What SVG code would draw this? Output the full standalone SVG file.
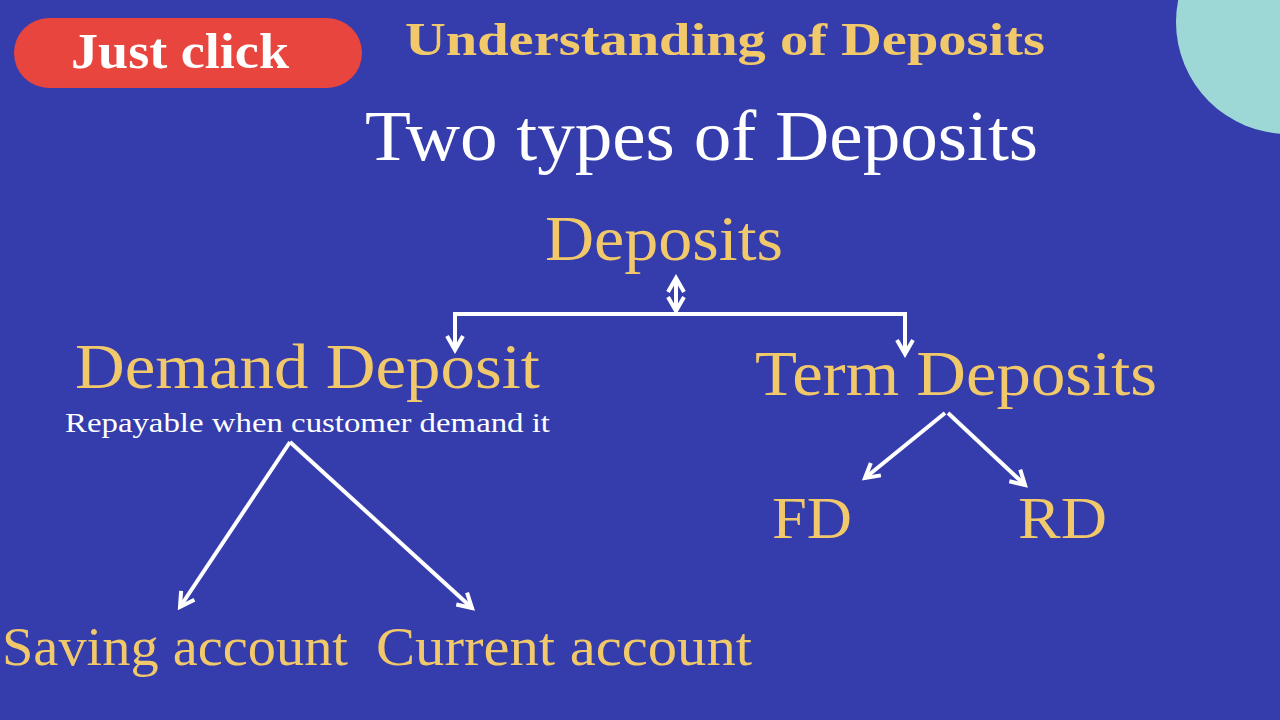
<svg xmlns="http://www.w3.org/2000/svg" width="1280" height="720" viewBox="0 0 1280 720">
<style>
text{font-family:"Liberation Serif","DejaVu Serif",serif}
.y{fill:#F2C96A}
.w{fill:#FFFFFF}
.c line,.c path{stroke:#FFFFFF;stroke-width:4;fill:none}
</style>
<defs>
<marker id="ah" viewBox="0 0 10 10" refX="8" refY="5" markerWidth="5" markerHeight="5" orient="auto-start-reverse">
<path d="M1,1 L8,5 L1,9" fill="none" stroke="#FFFFFF" stroke-width="2"/>
</marker>
</defs>
<rect width="1280" height="720" fill="#343DAB"/>
<circle cx="1288" cy="22" r="112" fill="#9ED8D6"/>
<g id="badge">
<rect x="14" y="18" width="348" height="70" rx="35" fill="#E8453F"/>
<text x="180" y="68" text-anchor="middle" font-size="50" font-weight="bold" class="w" textLength="218" lengthAdjust="spacingAndGlyphs">Just click</text>
</g>
<g id="title"><text x="405" y="55" font-size="46" font-weight="bold" class="y" textLength="640" lengthAdjust="spacingAndGlyphs">Understanding of Deposits</text></g>
<g id="subtitle"><text x="365" y="160" font-size="72" class="w" textLength="673" lengthAdjust="spacingAndGlyphs">Two types of  Deposits</text></g>
<g id="deposits"><text x="545" y="260" font-size="64" class="y" textLength="238" lengthAdjust="spacingAndGlyphs">Deposits</text></g>
<g id="demand">
<text x="75" y="388" font-size="64" class="y" textLength="465" lengthAdjust="spacingAndGlyphs">Demand Deposit</text>
<text x="65" y="432" font-size="28" class="w" textLength="485" lengthAdjust="spacingAndGlyphs">Repayable when customer demand it</text>
</g>
<g id="term"><text x="755" y="395" font-size="64" class="y" textLength="402" lengthAdjust="spacingAndGlyphs">Term Deposits</text></g>
<g id="fd"><text x="772" y="538" font-size="60" class="y" textLength="80" lengthAdjust="spacingAndGlyphs">FD</text></g>
<g id="rd"><text x="1018" y="538" font-size="60" class="y" textLength="89" lengthAdjust="spacingAndGlyphs">RD</text></g>
<g id="saving"><text x="2" y="665" font-size="54" class="y" textLength="346" lengthAdjust="spacingAndGlyphs">Saving account</text></g>
<g id="current"><text x="376" y="665" font-size="54" class="y" textLength="376" lengthAdjust="spacingAndGlyphs">Current account</text></g>
<g id="connectors" class="c">
<line x1="676" y1="278" x2="676" y2="311" marker-start="url(#ah)" marker-end="url(#ah)"/>
<path d="M455,350 L455,314 L905,314 L905,354" marker-start="url(#ah)" marker-end="url(#ah)"/>
<line x1="290" y1="442" x2="180" y2="607" marker-end="url(#ah)"/>
<line x1="290" y1="442" x2="472" y2="608" marker-end="url(#ah)"/>
<line x1="945" y1="413" x2="865" y2="478" marker-end="url(#ah)"/>
<line x1="948" y1="413" x2="1025" y2="485" marker-end="url(#ah)"/>
</g>
</svg>
